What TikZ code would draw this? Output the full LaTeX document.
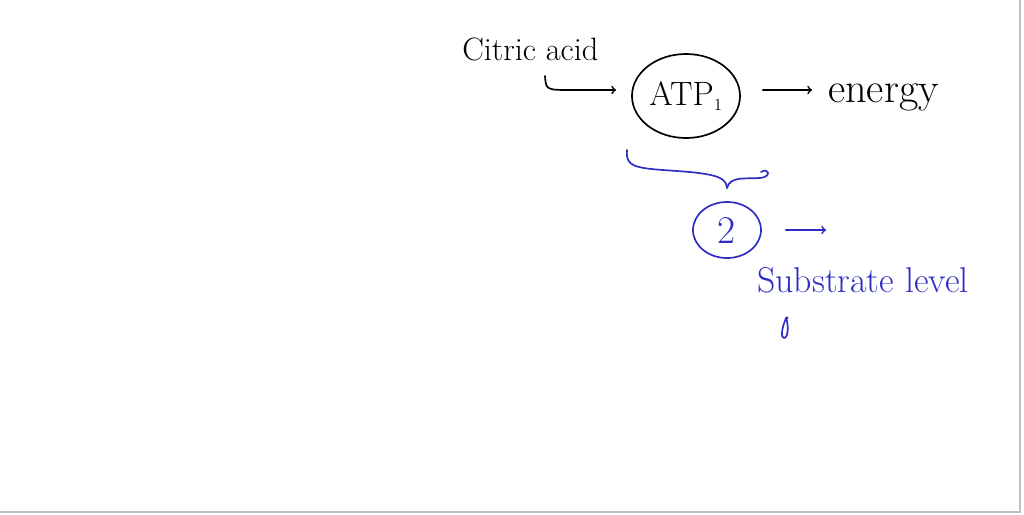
\documentclass[tikz,border=0pt]{standalone}
\usepackage{tikz}
\usetikzlibrary{arrows,shapes.geometric}
\definecolor{inkblue}{RGB}{45,45,195}
\tikzset{
  ink/.style={line width=1.2pt, line cap=round, line join=round},
  hand/.style={font=\fontsize{23}{27}\selectfont, inner sep=0pt},
}

\begin{document}
\begin{tikzpicture}[x=0.025cm, y=-0.025cm]
        \useasboundingbox (0,0) rectangle (1024,514);
        \draw[black!25, line width=1.2pt] (0,512) -- (1020,512) -- (1020,0);

        % black part
        \node[hand, anchor=base west] (citric) at (462,60) {Citric acid};
        \node[ink, draw, ellipse, inner sep=0pt, minimum width=2.7cm, minimum height=2.1cm,
              font=\fontsize{24}{28}\selectfont] (atp) at (686,96) {ATP$_{\scriptscriptstyle 1}$};
        \node[hand, anchor=base west, font=\fontsize{30}{34}\selectfont] (energy) at (828,102) {energy};
        \coordinate (hook) at (545,76);
        \coordinate (atpin) at (616,90);
        \draw[ink, ->] (hook) .. controls (546,90) .. (572,90) -- (atpin);
        \draw[ink, ->, shorten <=0.55cm, shorten >=0.4cm] (atp.east |- atpin) -- (energy.west |- atpin);

        % blue part
        \draw[ink, inkblue] (627,150) .. controls (625,170) and (640,168) .. (690,172)
              .. controls (718,175) and (726,178) .. (727,188);
        \draw[ink, inkblue] (727,188) .. controls (730,176) and (745,179) .. (760,178)
              .. controls (772,177) and (769,167) .. (761,172);
        \node[ink, draw=inkblue, text=inkblue, ellipse, minimum width=1.7cm, minimum height=1.4cm,
              font=\fontsize{28}{32}\selectfont] (two) at (727,230) {2};
        \coordinate (twoend) at (826,230);
        \draw[ink, inkblue, ->, shorten <=0.6cm] (two.east) -- (twoend);
        \node[hand, text=inkblue, anchor=base west, font=\fontsize{25.5}{30}\selectfont] (substrate) at (757,292) {Substrate level};
        \draw[ink, inkblue] (786,318) .. controls (781,330) and (781,338) .. (784,338)
              .. controls (788,338) and (789,326) .. (786,318);
        \fill[inkblue] (787,318) circle (1.6);
\end{tikzpicture}
\end{document}
